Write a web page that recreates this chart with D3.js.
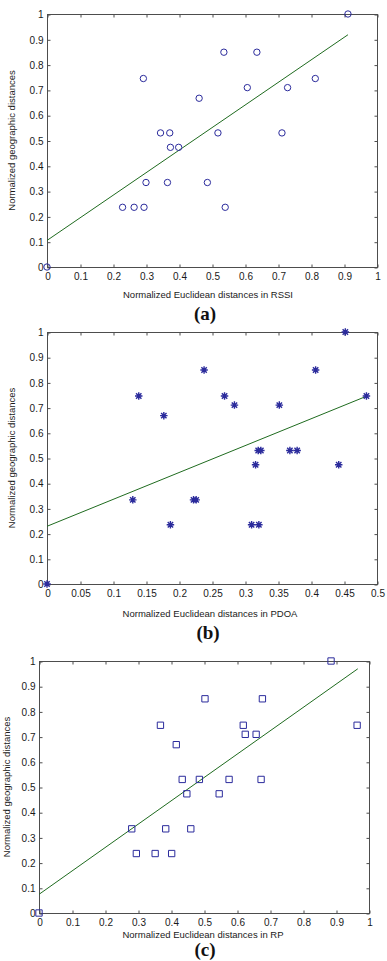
<!DOCTYPE html>
<html>
<head>
<meta charset="utf-8">
<script src="https://cdn.jsdelivr.net/npm/d3@7"></script>
<style>
  body { margin: 0; background: #fff; }
  text { font-family: "Liberation Sans", Arial, sans-serif; }
</style>
</head>
<body>
<script>
// values
var yTicks = [0, 0.1, 0.2, 0.3, 0.4, 0.5, 0.6, 0.7, 0.8, 0.9, 1];
var xTicksUnit = [0, 0.1, 0.2, 0.3, 0.4, 0.5, 0.6, 0.7, 0.8, 0.9, 1];
var xTicksHalf = [0, 0.05, 0.1, 0.15, 0.2, 0.25, 0.3, 0.35, 0.4, 0.45, 0.5];

// (a) RSSI
var rssiX = [0, 0.229, 0.264, 0.294, 0.540, 0.292, 0.813, 0.300, 0.365, 0.486, 0.344,
             0.372, 0.518, 0.712, 0.374, 0.399, 0.461, 0.536, 0.636, 0.607, 0.729, 0.912];
var rssiY = [0, 0.236, 0.236, 0.236, 0.236, 0.745, 0.745, 0.334, 0.334, 0.334, 0.530,
             0.530, 0.530, 0.530, 0.473, 0.473, 0.667, 0.849, 0.849, 0.709, 0.709, 1.0];
var rssiFitX = [0, 0.912];
var rssiFitY = [0.105, 0.918];

// (b) PDOA
var pdoaX = [0, 0.187, 0.310, 0.321, 0.130, 0.222, 0.226, 0.316, 0.442, 0.320, 0.324,
             0.368, 0.379, 0.177, 0.284, 0.352, 0.139, 0.269, 0.484, 0.238, 0.407, 0.452];
var pdoaY = [0, 0.235, 0.235, 0.235, 0.334, 0.334, 0.334, 0.473, 0.473, 0.530, 0.530,
             0.530, 0.530, 0.668, 0.710, 0.710, 0.746, 0.746, 0.746, 0.849, 0.849, 1.0];
var pdoaFitX = [0, 0.484];
var pdoaFitY = [0.229, 0.745];

// (c) RP
var rpX = [0, 0.295, 0.352, 0.402, 0.281, 0.384, 0.460, 0.448, 0.546, 0.434, 0.486,
           0.576, 0.673, 0.416, 0.625, 0.658, 0.368, 0.619, 0.964, 0.503, 0.677, 0.885];
var rpY = [0, 0.236, 0.236, 0.236, 0.334, 0.334, 0.334, 0.473, 0.473, 0.530, 0.530,
           0.530, 0.530, 0.668, 0.709, 0.709, 0.745, 0.745, 0.745, 0.850, 0.850, 1.0];
var rpFitX = [0, 0.966];
var rpFitY = [0.074, 0.969];

var markerColor = "#2b2b9c";
var fitColor = "#1f6b1f";
var axisColor = "#4d4d4d";

// matlab style '*' marker (plus + cross)
var starType = {
  draw: function(ctx, size) {
    var r = Math.sqrt(size) / 2, d = r * 0.72;
    ctx.moveTo(-r, 0); ctx.lineTo(r, 0);
    ctx.moveTo(0, -r); ctx.lineTo(0, r);
    ctx.moveTo(-d, -d); ctx.lineTo(d, d);
    ctx.moveTo(-d, d); ctx.lineTo(d, -d);
  }
};

var svg = d3.select("body").append("svg")
    .attr("width", 387)
    .attr("height", 961);

function drawPanel(p) {
  var x = d3.scaleLinear().domain(p.xDomain).range([p.left, p.right]);
  var y = d3.scaleLinear().domain([0, 1]).range([p.bottom, p.top]);
  var g = svg.append("g");

  // box
  g.append("rect")
    .attr("x", p.left + 0.5).attr("y", p.top + 0.5)
    .attr("width", p.right - p.left).attr("height", p.bottom - p.top)
    .attr("fill", "none").attr("stroke", axisColor);

  var fmt = function(d) { return String(d); };

  // bottom and left axes, ticks point inward
  var bx = g.append("g")
    .attr("transform", "translate(0.5," + (p.bottom + 0.5) + ")")
    .call(d3.axisBottom(x).tickValues(p.xTicks).tickFormat(fmt)
      .tickSizeInner(-3).tickSizeOuter(0).tickPadding(5));
  var ly = g.append("g")
    .attr("transform", "translate(" + (p.left + 0.5) + ",0.5)")
    .call(d3.axisLeft(y).tickValues(yTicks).tickFormat(fmt)
      .tickSizeInner(-3).tickSizeOuter(0).tickPadding(4));
  // top and right ticks only
  var tx = g.append("g")
    .attr("transform", "translate(0.5," + (p.top + 0.5) + ")")
    .call(d3.axisTop(x).tickValues(p.xTicks).tickFormat("")
      .tickSizeInner(-3).tickSizeOuter(0));
  var ry = g.append("g")
    .attr("transform", "translate(" + (p.right + 0.5) + ",0.5)")
    .call(d3.axisRight(y).tickValues(yTicks).tickFormat("")
      .tickSizeInner(-3).tickSizeOuter(0));

  [bx, ly, tx, ry].forEach(function(a) {
    a.select(".domain").remove();
    a.selectAll("line").attr("stroke", axisColor);
    a.selectAll("text").attr("fill", "#1a1a1a").style("font-size", "10px")
      .style("font-family", "'Liberation Sans', Arial, sans-serif");
  });

  // regression line
  var fit = p.fitX.map(function(v, i) { return [v, p.fitY[i]]; });
  g.append("path")
    .datum(fit)
    .attr("fill", "none")
    .attr("stroke", fitColor)
    .attr("stroke-width", 1)
    .attr("d", d3.line().x(function(d) { return x(d[0]); }).y(function(d) { return y(d[1]); }));

  // markers
  var pts = p.xs.map(function(v, i) { return [v, p.ys[i]]; });
  g.selectAll(".pt").data(pts).enter().append("path")
    .attr("class", "pt")
    .attr("transform", function(d) { return "translate(" + x(d[0]) + "," + y(d[1]) + ")"; })
    .attr("d", d3.symbol().type(p.symbol).size(p.symbolSize))
    .attr("fill", "none")
    .attr("stroke", markerColor)
    .attr("stroke-width", p.symbolStroke);

  // titles
  g.append("text")
    .attr("x", p.xTitleX).attr("y", p.xTitleY)
    .attr("text-anchor", "middle")
    .style("font-size", "9.5px").attr("fill", "#1a1a1a")
    .text(p.xTitle);
  g.append("text")
    .attr("transform", "translate(" + p.yTitleX + "," + ((p.top + p.bottom) / 2) + ") rotate(-90)")
    .attr("text-anchor", "middle")
    .style("font-size", "9.5px").attr("fill", "#1a1a1a")
    .text("Normalized geographic distances");
  g.append("text")
    .attr("x", p.tagX).attr("y", p.tagY)
    .attr("text-anchor", "middle")
    .style("font-family", "'Liberation Serif', 'Times New Roman', serif")
    .style("font-weight", "bold")
    .style("font-size", "19px")
    .attr("fill", "#111")
    .text(p.tag);
}

drawPanel({
  left: 47, right: 377, top: 14, bottom: 267,
  xDomain: [0, 1], xTicks: xTicksUnit,
  xs: rssiX, ys: rssiY, fitX: rssiFitX, fitY: rssiFitY,
  symbol: d3.symbolCircle, symbolSize: 32, symbolStroke: 1,
  xTitle: "Normalized Euclidean distances in RSSI", xTitleX: 208, xTitleY: 298,
  yTitleX: 15, tag: "(a)", tagX: 205, tagY: 320
});

drawPanel({
  left: 47, right: 377, top: 332, bottom: 584,
  xDomain: [0, 0.5], xTicks: xTicksHalf,
  xs: pdoaX, ys: pdoaY, fitX: pdoaFitX, fitY: pdoaFitY,
  symbol: starType, symbolSize: 56, symbolStroke: 1.4,
  xTitle: "Normalized Euclidean distances in PDOA", xTitleX: 210, xTitleY: 617,
  yTitleX: 15, tag: "(b)", tagX: 208, tagY: 639
});

drawPanel({
  left: 39, right: 369, top: 661, bottom: 913,
  xDomain: [0, 1], xTicks: xTicksUnit,
  xs: rpX, ys: rpY, fitX: rpFitX, fitY: rpFitY,
  symbol: d3.symbolSquare, symbolSize: 40, symbolStroke: 1,
  xTitle: "Normalized Euclidean distances in RP", xTitleX: 203, xTitleY: 938,
  yTitleX: 10, tag: "(c)", tagX: 205, tagY: 956
});
</script>
</body>
</html>
